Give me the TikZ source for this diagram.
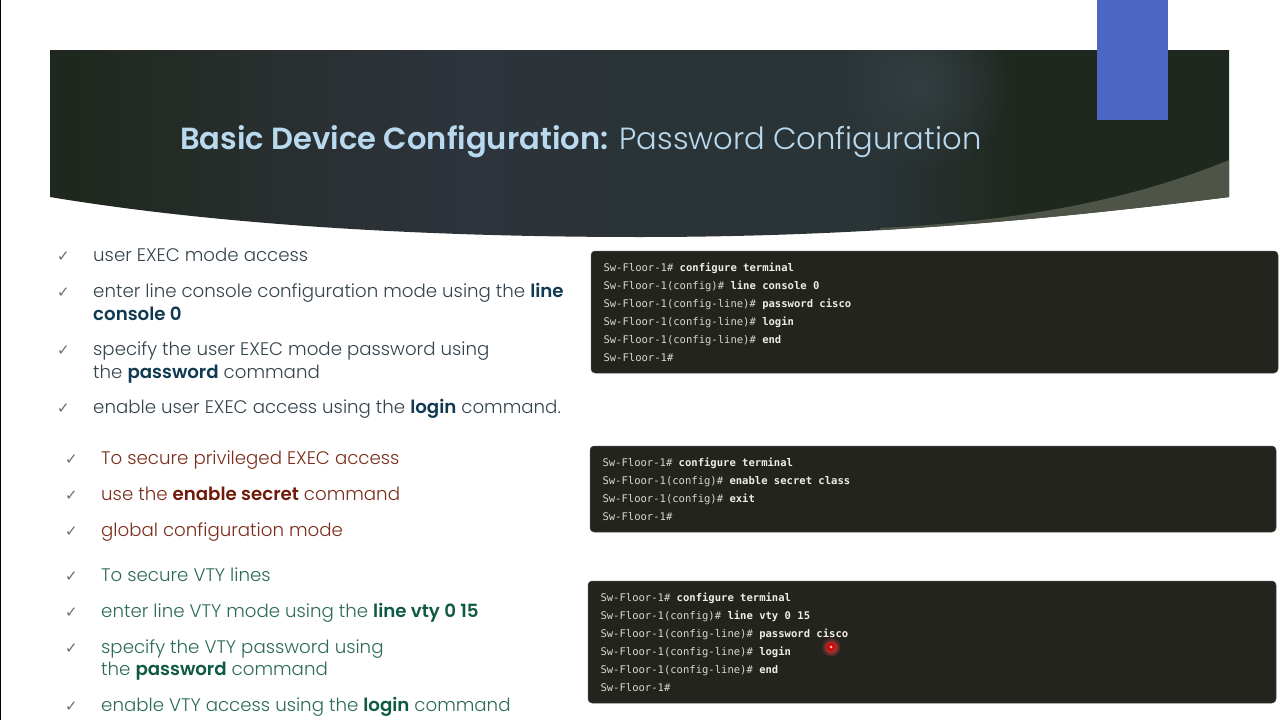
\documentclass[tikz,border=0pt]{standalone}
\usepackage{fontspec}
\setmainfont{Poppins}[UprightFont=* Light,BoldFont=* SemiBold]
\newfontfamily\monoterm{DejaVu Sans Mono}
\newfontfamily\checkfont{DejaVu Sans}
\usetikzlibrary{fadings}

\definecolor{bannerdark}{HTML}{1F281E}
\definecolor{bannerleft}{HTML}{292F30}
\definecolor{bannermid}{HTML}{2D343C}
\definecolor{bannerside}{HTML}{2A3336}
\definecolor{bannerglow}{HTML}{343E41}
\definecolor{bannerband}{HTML}{4E5448}
\definecolor{titleblue}{HTML}{B9D9EF}
\definecolor{tabblue}{HTML}{4D67C4}
\definecolor{termbg}{HTML}{24241F}
\definecolor{termtxt}{HTML}{D8D8CC}
\definecolor{termcmd}{HTML}{EEEEE6}
\definecolor{slate}{HTML}{34444C}
\definecolor{slatebold}{HTML}{103A52}
\definecolor{rust}{HTML}{7C2E1C}
\definecolor{rustbold}{HTML}{701A0C}
\definecolor{pine}{HTML}{2C6B58}
\definecolor{pinebold}{HTML}{0F5A44}
\definecolor{tick}{HTML}{667078}

\pgfdeclarehorizontalshading{bannershade}{100bp}{
	color(0bp)=(bannerdark);
	color(26bp)=(bannerdark);
	color(35bp)=(bannerleft);
	color(43bp)=(bannermid);
	color(50bp)=(bannerside);
	color(60bp)=(bannerside);
	color(66bp)=(bannerdark);
	color(100bp)=(bannerdark)}
\tikzfading[name=glowfade, inner color=transparent!0, outer color=transparent!100]

\newcommand{\termline}[2]{\spaceskip=0pt\xspaceskip=0pt\textcolor{termtxt}{#1}\textcolor{termcmd}{\bfseries #2}\\}

\begin{document}
\begin{tikzpicture}[x=1pt,y=-1pt]
\tikzstyle{bul}= [anchor=base west,inner sep=0pt,font=\fontsize{18.2}{22}\selectfont]
\tikzstyle{tck}= [anchor=base west,inner sep=0pt,text=tick,font=\checkfont\fontsize{15}{17}\selectfont]
\tikzstyle{term}= [rectangle,rounded corners=4pt,fill=termbg,draw=black!70,line width=.5pt,align=left,
	inner xsep=0pt,inner ysep=0pt,font=\monoterm\fontsize{10.55}{18}\selectfont]
\useasboundingbox (0,0) rectangle (1280,720);
\fill[white] (0,0) rectangle (1280,720);
\draw[black,line width=1pt] (0.5,0) -- (0.5,720);

% banner
\begin{scope}
\clip (50,50) -- (1229,50) -- (1229,197) .. controls (1030,222) and (850,237) .. (640,237)
	.. controls (400,237) and (200,222) .. (50,197) -- cycle;
\shade[shading=bannershade] (50,50) rectangle (1229,240);
\fill[bannerglow,path fading=glowfade] (920,85) ellipse (90 and 90);
\fill[bannerband] (1229,160) .. controls (1120,205) and (1000,222) .. (880,228) -- (880,240) -- (1229,240) -- cycle;
\end{scope}
\fill[tabblue] (1097,0) rectangle (1168,120);

\path (180,149.5) node[anchor=base west,inner sep=0pt,text=titleblue,font=\fontsize{30.6}{36}\selectfont] (title)
	{\textbf{Basic Device Configuration:} Password Configuration};

% console
\path
	(57,261) node[tck] (c1) {✓}
	(93,261) node[bul,text=slate] (a1) {user EXEC mode access}
	(57,297) node[tck] (c2) {✓}
	(93,297) node[bul,text=slate] (a2) {enter line console configuration mode using the \textcolor{slatebold}{\textbf{line}}}
	(93,320) node[bul,text=slate] (a3) {\textcolor{slatebold}{\textbf{console 0}}}
	(57,355) node[tck] (c3) {✓}
	(93,355) node[bul,text=slate] (a4) {specify the user EXEC mode password using}
	(93,378) node[bul,text=slate] (a5) {the \textcolor{slatebold}{\textbf{password}} command}
	(57,413) node[tck] (c4) {✓}
	(93,413) node[bul,text=slate] (a6) {enable user EXEC access using the \textcolor{slatebold}{\textbf{login}} command.}
;
% privileged
\path
	(65,464) node[tck] (c5) {✓}
	(101,464) node[bul,text=rust] (b1) {To secure privileged EXEC access}
	(65,500) node[tck] (c6) {✓}
	(101,500) node[bul,text=rust] (b2) {use the \textcolor{rustbold}{\textbf{enable secret}} command}
	(65,536) node[tck] (c7) {✓}
	(101,536) node[bul,text=rust] (b3) {global configuration mode}
;
% vty
\path
	(65,581) node[tck] (c8) {✓}
	(101,581) node[bul,text=pine] (d1) {To secure VTY lines}
	(65,617) node[tck] (c9) {✓}
	(101,617) node[bul,text=pine] (d2) {enter line VTY mode using the \textcolor{pinebold}{\textbf{line vty 0 15}}}
	(65,653) node[tck] (c10) {✓}
	(101,653) node[bul,text=pine] (d3) {specify the VTY password using}
	(101,675) node[bul,text=pine] (d4) {the \textcolor{pinebold}{\textbf{password}} command}
	(65,711) node[tck] (c11) {✓}
	(101,711) node[bul,text=pine] (d5) {enable VTY access using the \textcolor{pinebold}{\textbf{login}} command}
;

% terminals
\node[term,minimum width=687pt,minimum height=122pt,text width=662pt] (t1) at (934.5,312) {%
	\termline{Sw-Floor-1\#}{ configure terminal}
	\termline{Sw-Floor-1(config)\#}{ line console 0}
	\termline{Sw-Floor-1(config-line)\#}{ password cisco}
	\termline{Sw-Floor-1(config-line)\#}{ login}
	\termline{Sw-Floor-1(config-line)\#}{ end}
	\textcolor{termtxt}{Sw-Floor-1\#}};
\node[term,minimum width=686pt,minimum height=86pt,text width=661pt] (t2) at (933,489) {%
	\termline{Sw-Floor-1\#}{ configure terminal}
	\termline{Sw-Floor-1(config)\#}{ enable secret class}
	\termline{Sw-Floor-1(config)\#}{ exit}
	\textcolor{termtxt}{Sw-Floor-1\#}};
\node[term,minimum width=688pt,minimum height=122pt,text width=663pt] (t3) at (932,642) {%
	\termline{Sw-Floor-1\#}{ configure terminal}
	\termline{Sw-Floor-1(config)\#}{ line vty 0 15}
	\termline{Sw-Floor-1(config-line)\#}{ password cisco}
	\termline{Sw-Floor-1(config-line)\#}{ login}
	\termline{Sw-Floor-1(config-line)\#}{ end}
	\textcolor{termtxt}{Sw-Floor-1\#}};

% pointer
\fill[red!75!white,path fading=glowfade] (831,647) circle (10);
\fill[red!85!black] (831,647) circle (4);
\fill[red!25!white] (831,647) circle (1.5);
\end{tikzpicture}
\end{document}
